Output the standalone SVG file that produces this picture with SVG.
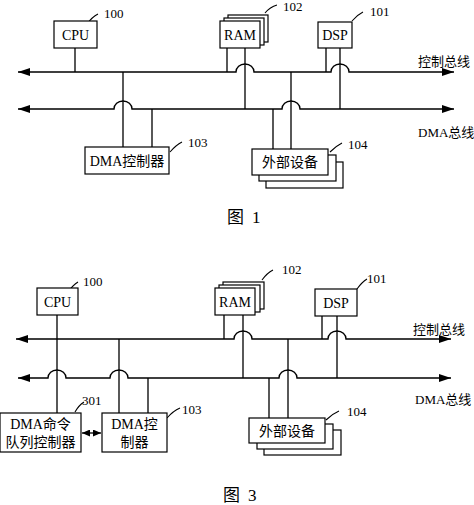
<svg xmlns="http://www.w3.org/2000/svg" width="474" height="505" viewBox="0 0 474 505">
<defs>
<marker id="arr" viewBox="0 0 12 8" refX="12" refY="4" markerWidth="12" markerHeight="8" markerUnits="userSpaceOnUse" orient="auto-start-reverse">
<path d="M0,0 L12,4 L0,8 Z" fill="#000"/>
</marker>
<marker id="arrs" viewBox="0 0 8 7" refX="8" refY="3.5" markerWidth="8" markerHeight="7" markerUnits="userSpaceOnUse" orient="auto-start-reverse">
<path d="M0,0 L8,3.5 L0,7 Z" fill="#000"/>
</marker>
<style>
.box{fill:#fff;stroke:#000;stroke-width:1.2}
.ln{fill:none;stroke:#000;stroke-width:1.3}
.bus{fill:none;stroke:#000;stroke-width:1.4;marker-start:url(#arr);marker-end:url(#arr)}
.ld{fill:none;stroke:#000;stroke-width:1.1}
text{font-family:"Liberation Serif","Noto Sans CJK SC",serif;font-size:14px;fill:#000}
.c{text-anchor:middle}
.num{font-size:13px}
.bl{font-size:13px}
.cap{font-size:17px}
</style>
</defs>
<rect width="474" height="505" fill="#fff"/>

<!-- Figure 1 connectors -->
<g id="connectors1">
<path class="bus" d="M18,72 H236 A9,8 0 0 1 254,72 H331 A9,8 0 0 1 349,72 H454"/>
<path class="bus" d="M18,109 H114 A9,8 0 0 1 132,109 H282 A9,8 0 0 1 300,109 H454"/>
<path class="ln" d="M75,48 V72 M123,72 V147 M152,109 V147 M227,48 V72 M245,48 V109 M326,48 V72 M340,48 V109 M291,72 V149 M273,109 V149"/>
<path class="ld" d="M87,24 Q92,17 98,14 M265,13 Q270,7 277,5 M352,21 Q357,15 363,12 M170,152 Q176,145 182,142 M330,152 Q336,146 342,143"/>
</g>
<g id="n100"><rect class="box" x="54" y="21" width="43" height="27"/><text class="c" x="75.5" y="39.5">CPU</text><text class="num" x="104" y="18">100</text></g>
<g id="n102"><rect class="box" x="228" y="15" width="40" height="27"/><rect class="box" x="224" y="18" width="40" height="27"/><rect class="box" x="220" y="21" width="40" height="27"/><text class="c" x="240" y="39.5">RAM</text><text class="num" x="283" y="11">102</text></g>
<g id="n101"><rect class="box" x="318" y="22" width="34" height="26"/><text class="c" x="335" y="40">DSP</text><text class="num" x="370" y="16">101</text></g>
<g id="n103"><rect class="box" x="85" y="147" width="84" height="27"/><text class="c" x="127" y="165.5">DMA控制器</text><text class="num" x="188" y="147">103</text></g>
<g id="n104"><rect class="box" x="266" y="162" width="77" height="26"/><rect class="box" x="259" y="155" width="77" height="26"/><rect class="box" x="252" y="149" width="76" height="26"/><text class="c" x="290" y="167">外部设备</text><text class="num" x="348" y="149">104</text></g>
<g id="bus1labels"><text class="bl" x="418" y="66">控制总线</text><text class="bl" x="418" y="137">DMA总线</text></g>
<text class="cap" x="227" y="223">图</text><text class="cap" x="252" y="223">1</text>

<!-- Figure 3 connectors -->
<g id="connectors3">
<path class="bus" d="M16,339 H234 A9,8 0 0 1 252,339 H328 A9,8 0 0 1 346,339 H451"/>
<path class="bus" d="M18,378 H48 A9,8 0 0 1 66,378 H110 A9,8 0 0 1 128,378 H279 A9,8 0 0 1 297,378 H451"/>
<path class="ln" d="M57,315 V413 M119,339 V413 M148,378 V413 M224,315 V339 M243,315 V378 M322,316 V339 M337,316 V378 M288,339 V418 M269,378 V418"/>
<path class="ln" d="M82,433 H101" style="marker-start:url(#arrs);marker-end:url(#arrs)"/>
<path class="ld" d="M68,292 Q73,285 78,282 M262,280 Q267,273 273,270 M357,289 Q362,282 367,279 M75,412 Q79,405 84,402 M167,418 Q173,411 180,408 M326,420 Q332,414 339,411"/>
</g>
<g id="n100b"><rect class="box" x="37" y="288" width="41" height="27"/><text class="c" x="57.5" y="306.5">CPU</text><text class="num" x="83" y="286">100</text></g>
<g id="n102b"><rect class="box" x="223" y="282" width="41" height="27"/><rect class="box" x="219" y="285" width="41" height="27"/><rect class="box" x="215" y="288" width="40" height="27"/><text class="c" x="235" y="306.5">RAM</text><text class="num" x="282" y="274">102</text></g>
<g id="n101b"><rect class="box" x="315" y="289" width="42" height="27"/><text class="c" x="336" y="307.5">DSP</text><text class="num" x="367" y="283">101</text></g>
<g id="n301"><rect class="box" x="0" y="413" width="81" height="39"/><text class="c" x="40.5" y="429">DMA命令</text><text class="c" x="40.5" y="447">队列控制器</text><text class="num" x="82" y="405">301</text></g>
<g id="n103b"><rect class="box" x="102" y="413" width="65" height="39"/><text class="c" x="134.5" y="429">DMA控</text><text class="c" x="134.5" y="447">制器</text><text class="num" x="182" y="414">103</text></g>
<g id="n104b"><rect class="box" x="264" y="430" width="77" height="25"/><rect class="box" x="257" y="424" width="76" height="25"/><rect class="box" x="249" y="418" width="76" height="25"/><text class="c" x="287" y="435.5">外部设备</text><text class="num" x="347" y="416">104</text></g>
<g id="bus3labels"><text class="bl" x="413" y="334">控制总线</text><text class="bl" x="415" y="404">DMA总线</text></g>
<text class="cap" x="223" y="501">图</text><text class="cap" x="248" y="501">3</text>
</svg>
